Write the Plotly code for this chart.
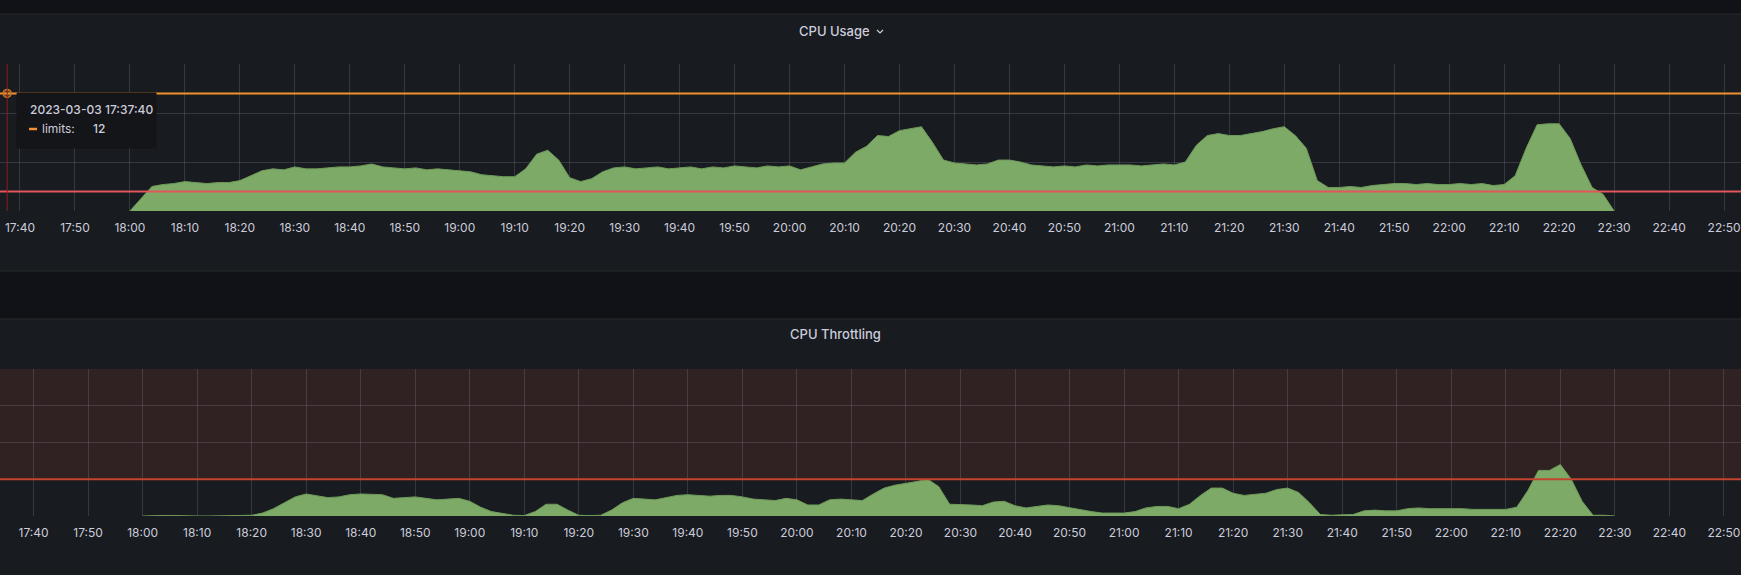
import plotly.graph_objects as go
import pandas as pd

# cpu usage (cores) and throttling (%) sampled every 2 minutes, 18:00 -> 22:30
start = "2023-03-03 18:00:00"

usage = [
    0, 1.2, 2.5, 2.7, 2.8, 3.0, 2.9, 2.8, 2.9, 2.9,
    3.1, 3.6, 4.1, 4.3, 4.2, 4.5, 4.3, 4.3, 4.4, 4.5,
    4.5, 4.6, 4.8, 4.5, 4.4, 4.3, 4.4, 4.2, 4.3, 4.2,
    4.1, 4.0, 3.7, 3.6, 3.5, 3.5, 4.3, 5.8, 6.2, 5.2,
    3.4, 3.0, 3.3, 4.0, 4.4, 4.5, 4.3, 4.4, 4.5, 4.3,
    4.4, 4.5, 4.3, 4.5, 4.4, 4.6, 4.5, 4.4, 4.6, 4.5,
    4.6, 4.2, 4.5, 4.8, 4.9, 4.9, 6.0, 6.6, 7.7, 7.6,
    8.2, 8.4, 8.6, 7.0, 5.2, 4.9, 4.8, 4.7, 4.8, 5.2,
    5.2, 5.0, 4.7, 4.6, 4.5, 4.6, 4.5, 4.7, 4.6, 4.7,
    4.7, 4.7, 4.6, 4.7, 4.8, 4.7, 5.0, 6.7, 7.7, 7.9,
    7.7, 7.7, 7.9, 8.1, 8.4, 8.6, 7.7, 6.4, 3.1, 2.4,
    2.4, 2.5, 2.4, 2.6, 2.7, 2.8, 2.8, 2.7, 2.8, 2.7,
    2.7, 2.8, 2.7, 2.8, 2.6, 2.7, 3.6, 6.4, 8.8, 8.9,
    8.9, 7.4, 4.7, 2.4, 1.7, 0,
]

throttling = [
    0, 0.4, 0.4, 0.3, 0, 0, 0, 0, 0, 0,
    0.5, 2, 5, 9, 13, 15, 14, 12.5, 13, 14.5,
    15, 15, 14.5, 12, 12.5, 13, 12, 11, 11.5, 12,
    10, 6, 3, 1.5, 0.5, 0.3, 3, 8, 8, 4,
    0.5, 0.3, 0.5, 4, 9, 12, 11.5, 11, 12.5, 14,
    14.5, 14, 13.5, 14, 14, 13, 11.5, 11, 10.5, 12,
    11, 7.5, 7.5, 11, 11.5, 11, 10.5, 15, 19, 21,
    22, 23.5, 25, 20, 8, 8, 7.5, 7, 9.5, 10,
    7, 5.5, 6.5, 7.5, 7, 5.5, 4.5, 3, 2, 2,
    2, 3, 5.5, 6.5, 6.5, 5, 8, 14, 19, 19,
    15.5, 14, 15, 15.5, 18, 19, 16, 9, 1, 0.5,
    0.8, 1, 3.5, 4, 3.5, 3.5, 5, 5.5, 5, 5,
    5.5, 5, 4.5, 4.5, 4.5, 4.5, 6, 17, 31, 31,
    35, 25, 10, 0.5, 0.5, 0,
]

limits = 12
requests = 2
throttle_threshold = 25

times = pd.date_range(start, periods=len(usage), freq="2min")

W, H = 1741, 575
BG = "#111217"
PANEL = "#181b1f"
GREEN = "#7eaa68"
TXT = "#ccccdc"
GRID = "rgba(204,204,220,0.17)"


def py(px):
    return 1 - px / H


def pxx(px):
    return px / W


fig = go.Figure()

fig.add_trace(go.Scatter(x=times, y=usage, mode="lines", fill="tozeroy",
                         line=dict(color="#6f9a5a", width=1), fillcolor=GREEN,
                         xaxis="x", yaxis="y", hoverinfo="skip"))
fig.add_trace(go.Scatter(x=[times[0] - pd.Timedelta("30min"), times[-1] + pd.Timedelta("30min")],
                         y=[limits, limits], mode="lines",
                         line=dict(color="#f2912f", width=2), xaxis="x", yaxis="y"))
fig.add_trace(go.Scatter(x=[times[0] - pd.Timedelta("30min"), times[-1] + pd.Timedelta("30min")],
                         y=[requests, requests], mode="lines",
                         line=dict(color="#e0575c", width=2), xaxis="x", yaxis="y"))
fig.add_trace(go.Scatter(x=[pd.Timestamp("2023-03-03 17:37:40")], y=[limits], mode="markers",
                         marker=dict(size=8, color="rgba(242,145,47,0.35)",
                                     line=dict(color="#c77425", width=1.5)),
                         xaxis="x", yaxis="y"))

fig.add_trace(go.Scatter(x=times, y=throttling, mode="lines", fill="tozeroy",
                         line=dict(color="#6f9a5a", width=1), fillcolor=GREEN,
                         xaxis="x2", yaxis="y2", hoverinfo="skip"))

shapes = [
    # panels
    dict(type="rect", xref="paper", yref="paper", x0=-0.01, x1=1.01, y0=py(271), y1=py(14),
         fillcolor=PANEL, line=dict(color="#26282d", width=1), layer="below"),
    dict(type="rect", xref="paper", yref="paper", x0=-0.01, x1=1.01, y0=-0.05, y1=py(319),
         fillcolor=PANEL, line=dict(color="#26282d", width=1), layer="below"),
    # throttling threshold region + line
    dict(type="rect", xref="x2 domain", yref="y2", x0=0, x1=1, y0=throttle_threshold, y1=100,
         fillcolor="rgba(214,80,60,0.13)", line=dict(width=0), layer="below"),
    dict(type="line", xref="x2 domain", yref="y2", x0=0, x1=1,
         y0=throttle_threshold, y1=throttle_threshold, line=dict(color="#c4452f", width=2)),
    # hover crosshair
    dict(type="line", xref="x", yref="y domain", x0="2023-03-03 17:37:40", x1="2023-03-03 17:37:40",
         y0=0, y1=1, line=dict(color="#8e1c1c", width=1)),
    # tooltip
    dict(type="rect", xref="paper", yref="paper", x0=pxx(17), x1=pxx(156), y0=py(148), y1=py(93),
         fillcolor="#141518", line=dict(color="#141518", width=1)),
    dict(type="line", xref="paper", yref="paper", x0=pxx(29), x1=pxx(37), y0=py(129), y1=py(129),
         line=dict(color="#f2912f", width=2.5)),
    # chevron next to title
    dict(type="path", xref="paper", yref="paper",
         path=f"M {pxx(877)} {py(30)} L {pxx(880)} {py(33)} L {pxx(883)} {py(30)}",
         line=dict(color=TXT, width=1.2)),
]


def label(text, x, y, anchor="center", weight=400):
    return dict(text=text, x=pxx(x), y=py(y), xref="paper", yref="paper", showarrow=False,
                xanchor=anchor, yanchor="middle",
                font=dict(size=12 if anchor == "left" else 13, color=TXT, family="Inter",
                          weight=weight))


annotations = [
    label("CPU Usage", 834, 31, weight=500),
    label("CPU Throttling", 835, 334, weight=500),
    label("2023-03-03 17:37:40", 28, 109, "left", 500),
    label("limits:", 40, 129, "left"),
    label(str(limits), 91, 129, "left", 500),
]

xcommon = dict(type="date", tickformat="%H:%M", dtick=600000, showgrid=True, gridcolor=GRID,
               gridwidth=1, zeroline=False, showline=False, ticks="outside", ticklen=6,
               tickcolor="rgba(0,0,0,0)", tickfont=dict(size=12, color=TXT, family="Inter"))
ycommon = dict(showticklabels=False, showgrid=True, gridcolor=GRID, zeroline=False, showline=False)

fig.update_layout(
    width=W, height=H,
    margin=dict(l=0, r=0, t=0, b=0),
    paper_bgcolor=BG,
    plot_bgcolor=PANEL,
    showlegend=False,
    hovermode=False,
    xaxis=dict(xcommon, domain=[0, 1], anchor="y",
               range=["2023-03-03 17:36:22", "2023-03-03 22:53:05"]),
    yaxis=dict(ycommon, domain=[py(211), py(64)], range=[0, 15], dtick=5, anchor="x"),
    xaxis2=dict(xcommon, domain=[0, 1], anchor="y2",
                range=["2023-03-03 17:33:51", "2023-03-03 22:53:08"]),
    yaxis2=dict(ycommon, domain=[py(516), py(369)], range=[0, 100], dtick=25, anchor="x2"),
    shapes=shapes,
    annotations=annotations,
)

fig.write_html("out.html", config={"displayModeBar": False},
               post_script="document.body.style.margin='0';document.body.style.background='#111217';")
